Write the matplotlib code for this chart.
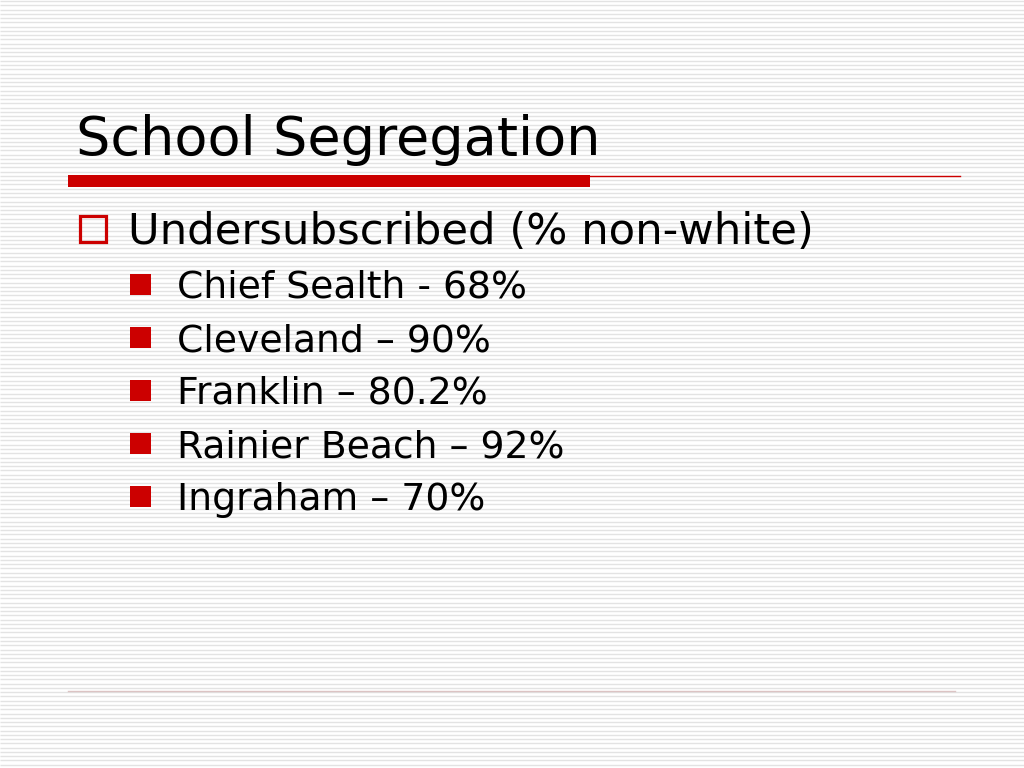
import numpy as np
import matplotlib.pyplot as plt
from matplotlib.patches import Rectangle

title = "School Segregation"
heading = "Undersubscribed (% non-white)"
schools = ["Chief Sealth", "Cleveland", "Franklin", "Rainier Beach", "Ingraham"]
pct_labels = ["68%", "90%", "80.2%", "92%", "70%"]
dashes = ["-", "\u2013", "\u2013", "\u2013", "\u2013"]

RED = "#cc0000"
W, H = 1024, 768

fig = plt.figure(figsize=(W / 100, H / 100), dpi=100)
ax = fig.add_axes([0, 0, 1, 1])
ax.set_xlim(0, W)
ax.set_ylim(H, 0)
ax.axis('off')

# striped background, kept under everything else
stripes = np.arange(1.0, H, H / 180)
ax.hlines(stripes, 0, W, colors="#e3e3e3", linewidth=1.0, zorder=0)

# title and rules
ax.text(76, 155, title, fontsize=39, family="DejaVu Sans", va="baseline", ha="left", zorder=3)
ax.add_patch(Rectangle((68, 175), 522, 12, color=RED, lw=0, zorder=3))
ax.plot([590, 960], [175.5, 175.5], color=RED, lw=1.0, zorder=3)
ax.plot([68, 955], [691, 691], color="#dcc4c4", lw=1.0, zorder=3)

# first level bullet
ax.add_patch(Rectangle((79.5, 215.5), 26, 26, fill=False, edgecolor=RED, lw=2.3, zorder=3))
ax.text(128, 244, heading, fontsize=31.2, family="DejaVu Sans", va="baseline", ha="left", zorder=3)

# second level bullets
for i, (s, d, p) in enumerate(zip(schools, dashes, pct_labels)):
    y = 298 + 53 * i
    ax.add_patch(Rectangle((130, y - 24), 21, 21, color=RED, lw=0, zorder=3))
    ax.text(177, y, f"{s} {d} {p}", fontsize=27.2, family="DejaVu Sans",
            va="baseline", ha="left", zorder=3)

fig.savefig("out.png", dpi=100, facecolor="white")
